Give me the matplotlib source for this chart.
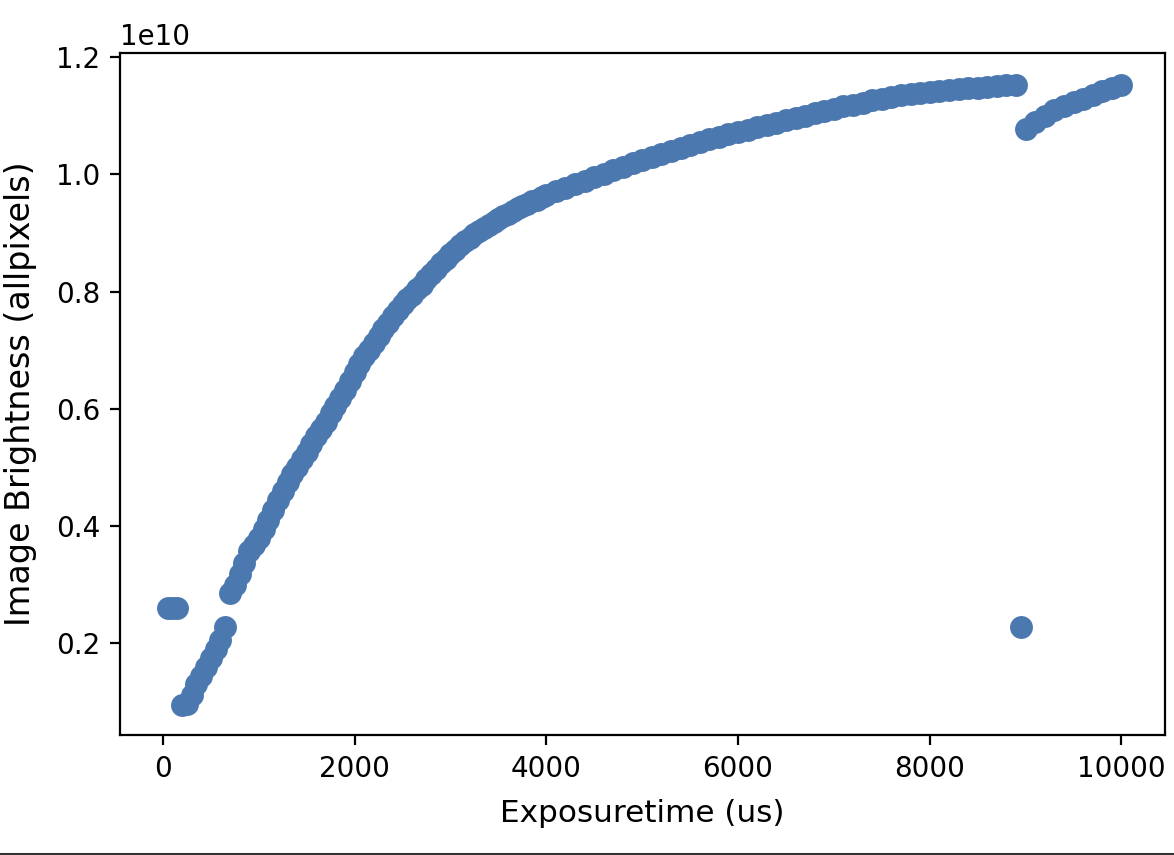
import numpy as np
import matplotlib.pyplot as plt
from matplotlib.lines import Line2D

# Exposure time (us) and image brightness (in units of 1e10)
x_start = [50, 100, 150]
y_start = [0.26, 0.26, 0.26]

x_low = [200, 250, 300, 350, 400, 450, 500, 550, 600, 650]
y_low = [0.095, 0.097, 0.112, 0.13, 0.145, 0.16, 0.175, 0.19, 0.205, 0.228]

# steep part, sampled every 50 us (700 - 4000)
x_rise = list(range(700, 4050, 50))
y_rise = [0.285, 0.30, 0.318, 0.337, 0.357, 0.368, 0.38, 0.395,      # 700-1050
          0.41, 0.428, 0.445, 0.46, 0.475, 0.488, 0.50, 0.514,       # 1100-1450
          0.527, 0.54, 0.553, 0.565, 0.578, 0.592, 0.605, 0.618,     # 1500-1850
          0.632, 0.647, 0.662, 0.676, 0.69, 0.70, 0.712, 0.724,      # 1900-2250
          0.736, 0.747, 0.758, 0.768, 0.778, 0.787, 0.795, 0.804,    # 2300-2650
          0.812, 0.821, 0.83, 0.839, 0.848, 0.856, 0.864, 0.871,     # 2700-3050
          0.879, 0.886, 0.892, 0.898, 0.903, 0.909, 0.914, 0.919,    # 3100-3450
          0.924, 0.929, 0.933, 0.938, 0.942, 0.946, 0.95, 0.954,     # 3500-3850
          0.957, 0.961, 0.965]                                       # 3900-4000

# flatter part, sampled every 100 us (4100 - 8900)
x_flat = list(range(4100, 9000, 100))
y_flat = [0.971, 0.977, 0.983, 0.989, 0.995, 1.001, 1.007, 1.013,    # 4100-4800
          1.019, 1.025, 1.03, 1.035, 1.04, 1.045, 1.05, 1.055,       # 4900-5600
          1.06, 1.064, 1.068, 1.072, 1.076, 1.08, 1.084, 1.088,      # 5700-6400
          1.092, 1.096, 1.1, 1.104, 1.108, 1.112, 1.116, 1.119,      # 6500-7200
          1.122, 1.126, 1.129, 1.132, 1.135, 1.137, 1.139, 1.141,    # 7300-8000
          1.143, 1.144, 1.145, 1.147, 1.148, 1.149, 1.151, 1.152,    # 8100-8800
          1.153]                                                     # 8900

x_outlier = [8950]
y_outlier = [0.228]

x_end = [9000, 9100, 9200, 9300, 9400, 9500, 9600, 9700, 9800, 9900, 10000]
y_end = [1.077, 1.09, 1.1, 1.109, 1.116, 1.123, 1.129, 1.136, 1.143, 1.148, 1.152]

exposure = np.array(x_start + x_low + x_rise + x_flat + x_outlier + x_end)
brightness = np.array(y_start + y_low + y_rise + y_flat + y_outlier + y_end) * 1e10

fig = plt.figure(figsize=(5.87, 4.275), dpi=200)
ax = fig.add_axes([0.102, 0.140, 0.890, 0.798])

ax.scatter(exposure, brightness, s=68, color='#4c78b0', linewidths=0)

ax.set_xlim(-450, 10450)
ax.set_ylim(0.043e10, 1.207e10)
ax.set_xticks([0, 2000, 4000, 6000, 8000, 10000])
ax.set_yticks([0.2e10, 0.4e10, 0.6e10, 0.8e10, 1.0e10, 1.2e10])
ax.set_xlabel('Exposuretime (us)', fontsize=11.2, labelpad=6)
ax.set_ylabel('Image Brightness (allpixels)', fontsize=12, labelpad=7)

# dark edge along the bottom of the screenshot
fig.add_artist(Line2D([0, 1], [0.0015, 0.0015], transform=fig.transFigure,
                      color='#333333', linewidth=1.1))

fig.savefig('out.png', dpi=200)
